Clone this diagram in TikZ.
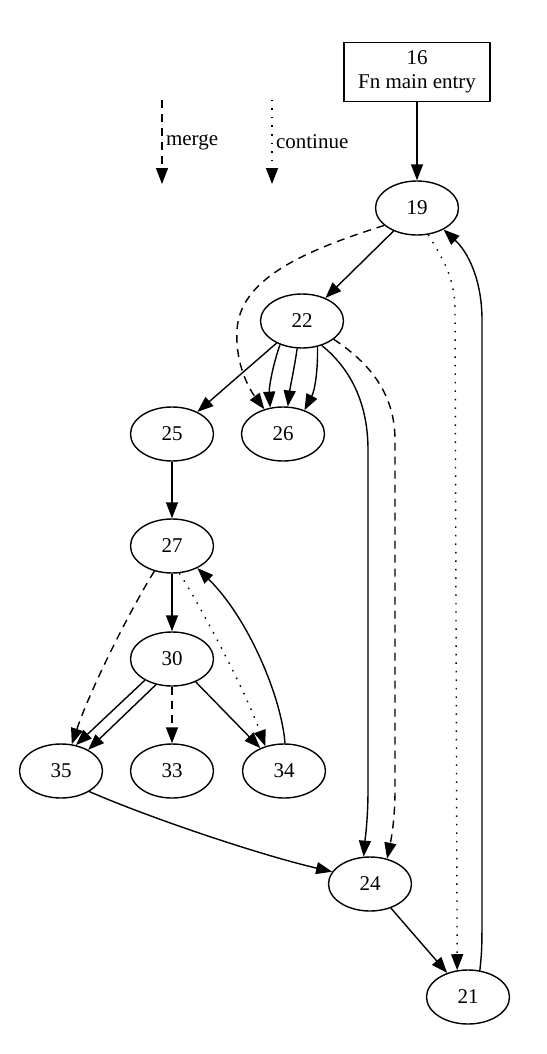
\documentclass[tikz,border=0pt]{standalone}
\usepackage{fontspec}
\setmainfont{Liberation Serif}
\usetikzlibrary{positioning, shapes.geometric, arrows.meta}
\tikzset{
    ->,
    >={Triangle[length=16pt, width=12pt]},
    on grid,
    node distance=113pt,
    blk/.style={draw, ellipse, minimum width=83pt, minimum height=54pt, inner sep=0pt},
    entry/.style={draw, rectangle, minimum width=146pt, minimum height=59pt, inner sep=0pt, align=center},
    mergeedge/.style={dash pattern=on 8pt off 6pt},
    contedge/.style={dash pattern=on 1.5pt off 7pt},
}

\begin{document}
\begin{tikzpicture}[x=1pt, y=-1pt, line width=1.4pt, font=\fontsize{21}{24}\selectfont]
                \useasboundingbox (0,0) rectangle (546,1054);

                \node[blk] (n19) at (417,208) {19};
                \node[entry, above=136pt of n19] (n16) {16\\Fn main entry};
                \node[blk, below left=113pt and 115pt of n19] (n22) {22};
                \node[blk, below left=113pt and 130pt of n22] (n25) {25};
                \node[blk, below left=113pt and 19pt of n22] (n26) {26};
                \node[blk, below=112pt of n25] (n27) {27};
                \node[blk, below=113pt of n27] (n30) {30};
                \node[blk, below left=112pt and 111pt of n30] (n35) {35};
                \node[blk, below=112pt of n30] (n33) {33};
                \node[blk, below right=112pt and 112pt of n30] (n34) {34};
                \node[blk, below right=113pt and 86pt of n34] (n24) {24};
                \node[blk, below right=113pt and 98pt of n24] (n21) {21};

                % legend
                \coordinate (m1) at (162,100);
                \coordinate (m2) at (162,184);
                \coordinate (c1) at (272,100);
                \coordinate (c2) at (272,184);
                \draw[mergeedge] (m1) -- node[right] {merge} (m2);
                \draw[contedge] (c1) -- node[right] {continue} (c2);

                \draw (n16) -- (n19);
                \draw (n19) -- (n22);
                \draw[mergeedge] (n19.208) .. controls (300,252) and (240,280) .. (237,330)
                      .. controls (235,365) and (250,390) .. (n26.127);
                \draw[contedge] (n19.293) .. controls (440,255) and (455,275) .. (455,310) -- (n21.112);
                \draw (n21.66) .. controls (482,950) .. (482,900) -- (482,320)
                      .. controls (482,280) and (468,252) .. (n19.321);

                \draw (n22) -- (n25);
                \draw (n22.227) .. controls (272,368) and (269,388) .. (n26.116);
                \draw (n22.260) .. controls (294,370) and (290,388) .. (n26.80);
                \draw (n22.301) .. controls (318,370) and (315,390) .. (n26.48);
                \draw (n22.309) .. controls (352,370) and (368,405) .. (368,450) -- (368,790)
                      .. controls (368,820) and (365,840) .. (n24.103);
                \draw[mergeedge] (n22.330) .. controls (365,360) and (395,390) .. (395,440) -- (395,790)
                      .. controls (395,820) and (391,840) .. (n24.56);

                \draw (n25) -- (n27);
                \draw (n27) -- (n30);
                \draw[mergeedge] (n27.235) .. controls (130,610) and (90,690) .. (n35.68);
                \draw[contedge] (n27.285) .. controls (200,605) and (245,690) .. (n34.127);
                \draw (n34.88) .. controls (282,700) and (250,620) .. (n27.319);

                \draw (n30.218) -- (n35.60);
                \draw (n30.238) -- (n35.38);
                \draw[mergeedge] (n30) -- (n33);
                \draw (n30.316) -- (n34.136);

                \draw (n35.324) .. controls (150,818) and (260,855) .. (n24.162);
                \draw (n24) -- (n21);
            \end{tikzpicture}
\end{document}
